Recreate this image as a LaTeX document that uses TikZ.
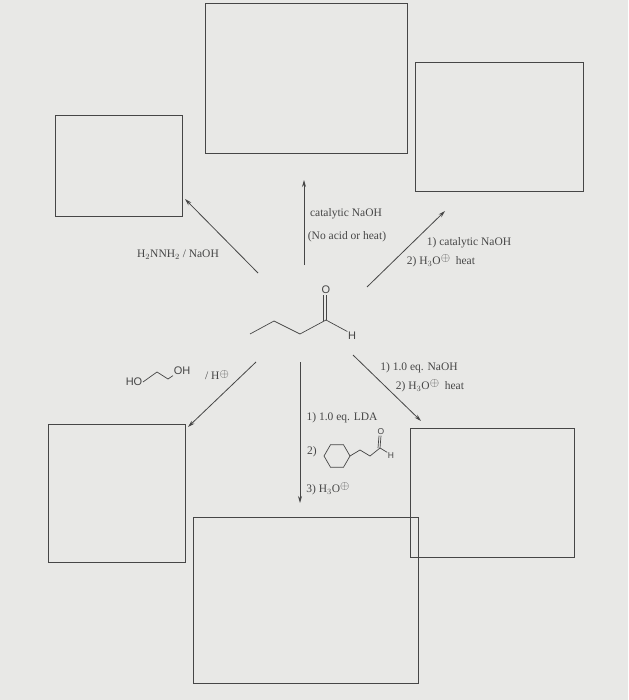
\documentclass[tikz,border=0pt]{standalone}
\usepackage{fontspec}
\setmainfont{Liberation Serif}
\newfontfamily\chemsf{Liberation Sans}
\usetikzlibrary{arrows.meta}
\definecolor{bg}{RGB}{232,232,230}
\definecolor{ln}{RGB}{70,70,70}
\begin{document}
\begin{tikzpicture}[x=1pt,y=-1pt,
  box/.style={draw=ln,line width=0.9pt},
  rxn/.style={draw=ln,line width=0.8pt,-{Stealth[length=7pt,width=4pt]}},
  bond/.style={draw=ln,line width=0.7pt},
  lab/.style={font=\fontsize{11.5}{13}\selectfont,text=ln,inner sep=0pt},
  atm/.style={font=\chemsf\fontsize{11}{12}\selectfont,text=ln,inner sep=0.5pt}]
\fill[bg] (0,0) rectangle (628,700);
\useasboundingbox (0,0) rectangle (628,700);
\newcommand{\oplusc}{\raisebox{0.5ex}{\large$\oplus$}}
% boxes
\draw[box] (205,3) rectangle (407,153);
\draw[box] (415,62) rectangle (583,191);
\draw[box] (55,115) rectangle (182,216);
\draw[box] (48,424) rectangle (185,562);
\draw[box] (410,428) rectangle (574,557);
\draw[box] (193,517) rectangle (418,683);
% arrow anchors
\coordinate (u0) at (304,265); \coordinate (u1) at (304,180);
\coordinate (ul0) at (258,273); \coordinate (ul1) at (185,199);
\coordinate (ur0) at (367,287); \coordinate (ur1) at (445,211);
\coordinate (ll0) at (256,362); \coordinate (ll1) at (188,427);
\coordinate (d0) at (300,362); \coordinate (d1) at (300,503);
\coordinate (lr0) at (353,355); \coordinate (lr1) at (421,421);
\draw[rxn] (u0) -- (u1);
\draw[rxn] (ul0) -- (ul1);
\draw[rxn] (ur0) -- (ur1);
\draw[rxn] (ll0) -- (ll1);
\draw[rxn] (d0) -- (d1);
\draw[rxn] (lr0) -- (lr1);
% molecule
\coordinate (c1) at (250,334); \coordinate (c2) at (274,321);
\coordinate (c3) at (300,334); \coordinate (c4) at (326,320);
\node[atm] (O) at (326,290) {O};
\node[atm] (H) at (352,336) {H};
\draw[bond] (c1) -- (c2) -- (c3) -- (c4);
\draw[bond] (c4) -- (O.south);
\draw[bond] ([xshift=-3pt,yshift=-1pt]c4) -- ([xshift=-3pt]O.south);
\draw[bond] (c4) -- (H.north west);
% labels
\node[lab] (t1) at (346,214) {catalytic NaOH};
\node[lab] (t2) at (347,237) {(No acid or heat)};
\node[lab] (t3) at (178,255) {H$_2$NNH$_2$ / NaOH};
\node[lab] (t4) at (469,243) {1) catalytic NaOH};
\node[lab] (t5) at (441,261) {2) H$_3$O\oplusc{} \ heat};
\node[lab] (t6) at (419,368) {1) 1.0 eq. NaOH};
\node[lab] (t7) at (430,386) {2) H$_3$O\oplusc{} \ heat};
\node[lab] (t8) at (342,418) {1) 1.0 eq. LDA};
\node[lab] (t9) at (312,452) {2)};
\node[lab] (t10) at (328,489) {3) H$_3$O\oplusc};
% ethylene glycol
\node[atm] (ho) at (134,382) {HO};
\node[atm] (oh) at (182,371) {OH};
\draw[bond] (ho.east) -- (157,372) -- (168,379) -- (oh.south west);
\node[lab] (hp) at (217,375) {/ H\oplusc};
% cyclohexyl aldehyde
\begin{scope}[shift={(337,456)}]
\draw[bond] (0:13) -- (60:13) -- (120:13) -- (180:13) -- (240:13) -- (300:13) -- cycle;
\end{scope}
\coordinate (r1) at (350,456); \coordinate (r2) at (360,450);
\coordinate (r3) at (370,456); \coordinate (r4) at (380,448);
\node[atm,font=\chemsf\fontsize{8.5}{9}\selectfont] (O2) at (381,432) {O};
\node[atm,font=\chemsf\fontsize{8.5}{9}\selectfont] (H2) at (391,456) {H};
\draw[bond] (r1) -- (r2) -- (r3) -- (r4) -- (O2.south);
\draw[bond] ([xshift=-2pt]r4) -- ([xshift=-2pt]O2.south);
\draw[bond] (r4) -- (H2.north west);
\end{tikzpicture}
\end{document}
